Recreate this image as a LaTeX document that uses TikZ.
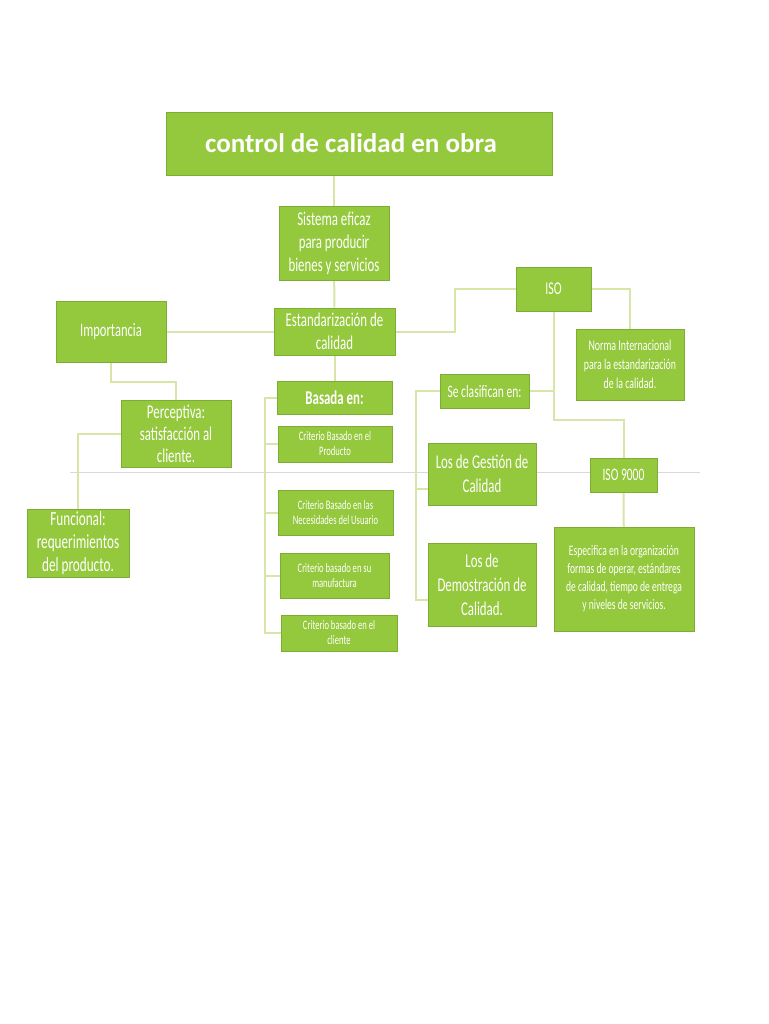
\documentclass[tikz,border=0pt]{standalone}
\usepackage{fontspec}
\setmainfont{Carlito}
\newfontfamily\estrecha[FakeStretch=0.66]{Carlito}
\usetikzlibrary{shadows,backgrounds}
\definecolor{verdecaja}{HTML}{94C83D}
\definecolor{bordecaja}{HTML}{7DAE33}
\definecolor{verdelinea}{HTML}{D5E6A8}
\tikzset{
  caja/.style={draw=bordecaja, fill=verdecaja, text=white, align=center,
    inner sep=2pt, line width=0.8pt,
    drop shadow={shadow xshift=1.2pt, shadow yshift=-1.2pt, opacity=0.35},
    font=\estrecha\fontsize{19}{23}\selectfont},
  tam/.style 2 args={minimum width=#1, minimum height=#2},
  letra/.style 2 args={font=\estrecha\fontsize{#1}{#2}\selectfont},
  enlace/.style={draw=verdelinea, line width=2pt},
}
\begin{document}
\begin{tikzpicture}[x=1pt, y=-1pt]
  \begin{scope}[on background layer]
    \fill[white] (0,0) rectangle (768,1024);
  \end{scope}
  \useasboundingbox (0,0) rectangle (768,1024);

  \node[caja, tam={386pt}{63pt}, font=\bfseries\fontsize{27}{30}\selectfont]
    (titulo) at (359,143.5) {control de calidad en obra\hspace{16pt}};
  \node[caja, tam={110pt}{74pt}, letra={19.5}{23}] (sistema) at (334,243)
    {Sistema eficaz\\para producir\\bienes y servicios};
  \node[caja, tam={121pt}{47pt}, letra={19.5}{23}] (estandar) at (334.5,331.5)
    {Estandarización de\\calidad};
  \node[caja, tam={110pt}{61pt}] (importancia) at (111,331.5) {Importancia};
  \node[caja, tam={75pt}{44pt}, letra={18}{22}] (iso) at (553.5,289) {ISO};
  \node[caja, tam={108pt}{71pt}, letra={15}{19}] (norma) at (630,364.5)
    {Norma Internacional\\para la estandarización\\de la calidad.};
  \node[caja, tam={89pt}{34pt}, letra={17.5}{20}] (clasifican) at (484.5,391)
    {Se clasifican en:};
  \node[caja, tam={108pt}{62pt}, letra={19.5}{24}] (gestion) at (482,474)
    {Los de Gestión de\\Calidad};
  \node[caja, tam={67pt}{34pt}, letra={17.5}{20}] (iso9000) at (623.5,475)
    {ISO 9000};
  \node[caja, tam={140pt}{104pt}, letra={14.5}{18}] (especifica) at (624,579)
    {Especifica en la organización\\formas de operar, estándares\\de calidad, tiempo de entrega\\y niveles de servicios.};
  \node[caja, tam={108pt}{83pt}, letra={19.5}{24}] (demostracion) at (482,584.5)
    {Los de\\Demostración de\\Calidad.};
  \node[caja, tam={115pt}{33pt}, font=\estrecha\bfseries\fontsize{19.5}{22}\selectfont]
    (basada) at (334.5,397.5) {Basada en:};
  \node[caja, tam={114pt}{36pt}, letra={13}{15}] (producto) at (335,444)
    {Criterio Basado en el\\Producto};
  \node[caja, tam={115pt}{45pt}, letra={13}{15}] (usuario) at (335.5,512.5)
    {Criterio Basado en las\\Necesidades del Usuario};
  \node[caja, tam={109pt}{45pt}, letra={13}{15}] (manufactura) at (334.5,575.5)
    {Criterio basado en su\\manufactura};
  \node[caja, tam={116pt}{36pt}, letra={13}{15}] (cliente) at (339,633)
    {Criterio basado en el\\cliente};
  \node[caja, tam={110pt}{67pt}, letra={19.5}{22}] (perceptiva) at (176,433.5)
    {Perceptiva:\\satisfacción al\\cliente.};
  \node[caja, tam={102pt}{68pt}, letra={20}{23}] (funcional) at (78,543)
    {Funcional:\\requerimientos\\del producto.};

  \begin{scope}[on background layer]
    \draw[gray!30, line width=1pt] (70,472) -- (700,472);
    \draw[enlace] (sistema.north |- titulo.south) -- (sistema.north);
    \draw[enlace] (sistema) -- (estandar);
    \draw[enlace] (estandar) -- (basada);
    \draw[enlace] (estandar.west) -- (importancia.east);
    \draw[enlace] (estandar.east) -- ++(60,0) |- (iso.west);
    \draw[enlace] (iso.east) -| (norma.north);
    \draw[enlace] (iso.south) -- ++(0,109) -| (iso9000.north);
    \draw[enlace] (clasifican.east) -- (clasifican.east -| iso.south);
    \draw[enlace] (clasifican.west) -| ([xshift=-12pt,yshift=-15pt]demostracion.west)
      -- ([yshift=-15pt]demostracion.west);
    \draw[enlace] ([yshift=-15pt]gestion.west) -- ++(-12,0);
    \draw[enlace] (iso9000) -- (especifica);
    \coordinate (ramab) at ([xshift=-12pt]basada.west);
    \draw[enlace] (basada.west) -- (ramab) |- (cliente.west);
    \foreach \c in {producto,usuario,manufactura}
      \draw[enlace] (\c.west) -- (\c.west -| ramab);
    \draw[enlace] (importancia.south) -- ++(0,20) -| (perceptiva.north);
    \draw[enlace] (perceptiva.west) -| (funcional.north);
  \end{scope}
\end{tikzpicture}
\end{document}
